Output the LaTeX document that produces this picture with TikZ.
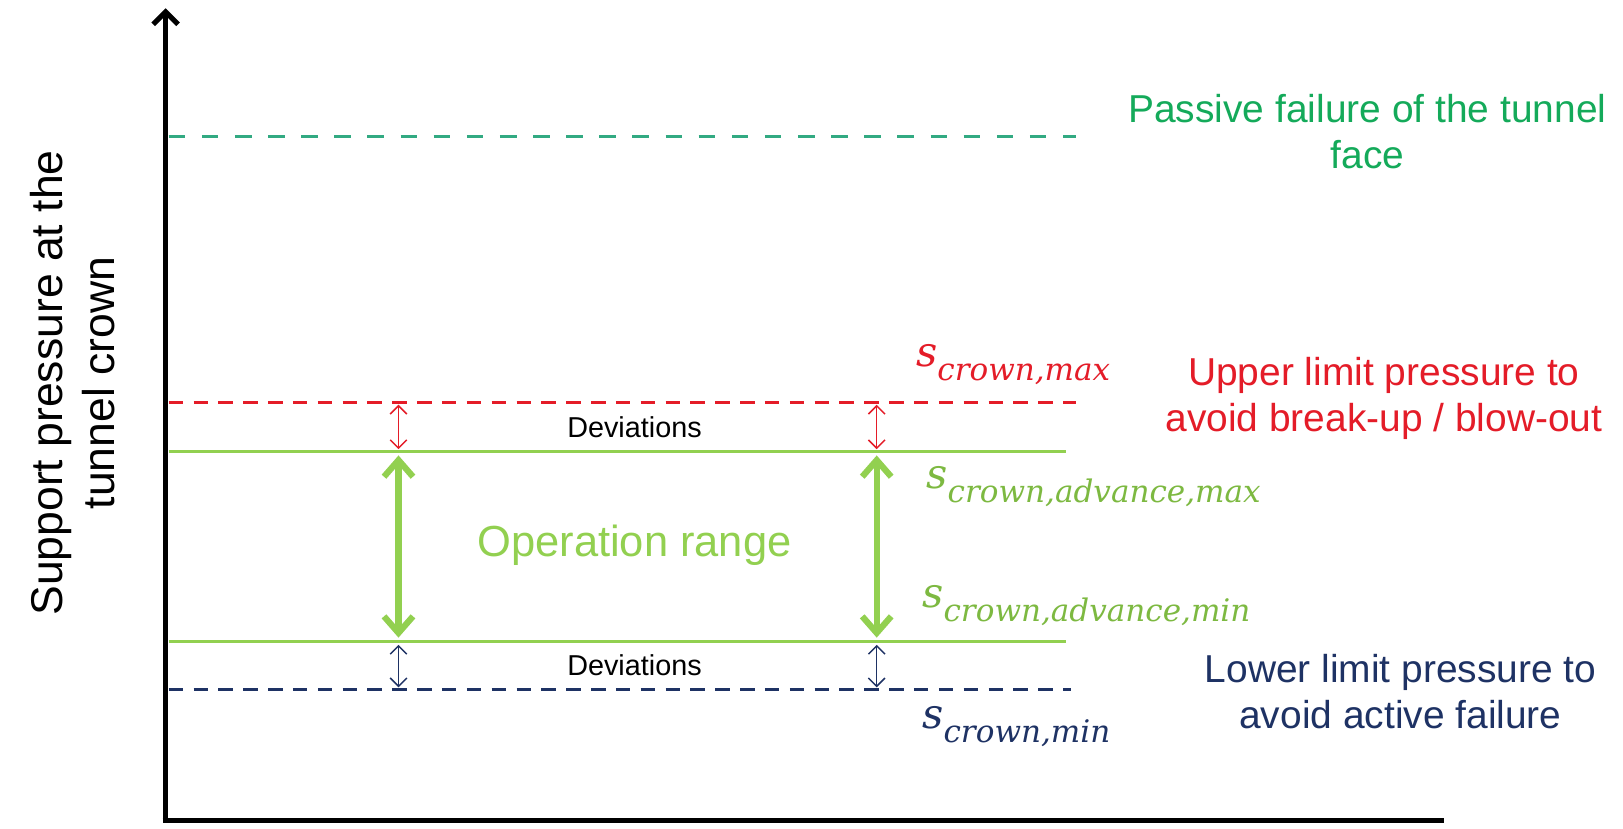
\documentclass[tikz,border=0pt]{standalone}
\usepackage{fontspec}
\setmainfont{Liberation Sans}
\newfontfamily\symvarfont{DejaVu Serif}
\usetikzlibrary{arrows.meta}
\definecolor{cPassive}{RGB}{20,170,90}
\definecolor{cPassLine}{RGB}{50,170,130}
\definecolor{cRed}{RGB}{228,28,40}
\definecolor{cGreen}{RGB}{146,208,80}
\definecolor{cGreenDark}{RGB}{125,185,65}
\definecolor{cNavy}{RGB}{30,50,100}
\newcommand{\svar}[1]{{\symvarfont\itshape s\raisebox{-0.35em}{\fontsize{15}{15}\selectfont #1}}}
\tikzset{
  axisline/.style={line width=2.5pt, black},
  refdash/.style={line width=1.5pt, dash pattern=on 7pt off 5pt},
  refsolid/.style={line width=1.5pt, cGreen},
  thinarrow/.style={line width=0.7pt, {Straight Barb[length=4pt,width=8pt]}-{Straight Barb[length=4pt,width=8pt]}},
  thickarrow/.style={line width=3pt, cGreen, {Straight Barb[length=8pt,width=14pt]}-{Straight Barb[length=8pt,width=14pt]}},
  devlabel/.style={font=\fontsize{13.9}{16}\selectfont, text=black},
  sidelabel/.style={font=\fontsize{18.8}{22.5}\selectfont, align=center},
}
\begin{document}
\begin{tikzpicture}[x=0.5pt,y=-0.5pt]
\fill[white] (0,0) rectangle (1568,800);
\useasboundingbox (0,0) rectangle (1568,800);
% axes
\coordinate (O) at (160,793);
\coordinate (ytop) at (160,8);
\coordinate (xend) at (1395,793);
\coordinate (xstart) at (157,793);
\draw[axisline, -{Straight Barb[length=6pt,width=12pt]}] (O) -- (ytop);
\draw[axisline] (xstart) -- (xend);
% reference lines
\coordinate (pa) at (163,132); \coordinate (pb) at (1040,132);
\coordinate (ra) at (163,389); \coordinate (rb) at (1040,389);
\coordinate (ga) at (163,436); \coordinate (gb) at (1030,436);
\coordinate (ha) at (163,620); \coordinate (hb) at (1030,620);
\coordinate (na) at (163,666); \coordinate (nb) at (1035,666);
\draw[refdash, cPassLine, dash pattern=on 8pt off 8pt] (pa) -- (pb);
\draw[refdash, cRed] (ra) -- (rb);
\draw[refsolid] (ga) -- (gb);
\draw[refsolid] (ha) -- (hb);
\draw[refdash, cNavy] (na) -- (nb);
% deviation / range arrows
\foreach \x/\n in {385/L,847/R}{
  \coordinate (r1\n) at (\x,391); \coordinate (r2\n) at (\x,434);
  \coordinate (g1\n) at (\x,440); \coordinate (g2\n) at (\x,616);
  \coordinate (n1\n) at (\x,623); \coordinate (n2\n) at (\x,664);
  \draw[thinarrow, cRed] (r1\n) -- (r2\n);
  \draw[thickarrow] (g1\n) -- (g2\n);
  \draw[thinarrow, cNavy] (n1\n) -- (n2\n);
}
% labels
\node[devlabel] (dev1) at (613,413) {Deviations};
\node[devlabel] (dev2) at (613,643) {Deviations};
\node[font=\fontsize{21}{25}\selectfont, text=cGreen] (oprange) at (613,527) {Operation range};
\node[anchor=west, text=cRed, font=\fontsize{20}{24}\selectfont] (smax) at (878,352) {\svar{crown,max}};
\node[anchor=west, text=cGreenDark, font=\fontsize{20}{24}\selectfont] (sadvmax) at (888,470) {\svar{crown,advance,max}};
\node[anchor=west, text=cGreenDark, font=\fontsize{20}{24}\selectfont] (sadvmin) at (884,585) {\svar{crown,advance,min}};
\node[anchor=west, text=cNavy, font=\fontsize{20}{24}\selectfont] (smin) at (884,702) {\svar{crown,min}};
\node[sidelabel, text=cPassive] (passive) at (1321,127) {Passive failure of the tunnel\\face};
\node[sidelabel, text=cRed] (upper) at (1337,385) {Upper limit pressure to\\avoid break-up / blow-out};
\node[sidelabel, text=cNavy] (lower) at (1353,668) {Lower limit pressure to\\avoid active failure};
\node[rotate=90, font=\fontsize{21.5}{25}\selectfont, align=center] (ylab) at (70,370) {Support pressure at the\\tunnel crown};
\end{tikzpicture}
\end{document}
